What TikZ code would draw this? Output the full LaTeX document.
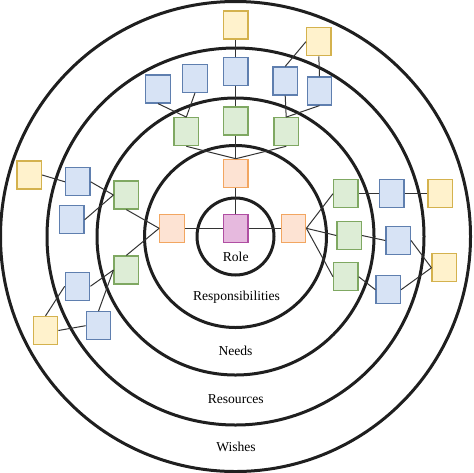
\documentclass[tikz,border=0pt]{standalone}
\usepackage{fontspec}
\setmainfont{Liberation Serif}
\definecolor{rolefill}{HTML}{E6B9DE}
\definecolor{roleline}{HTML}{B04FA3}
\definecolor{respfill}{HTML}{FDE3D3}
\definecolor{respline}{HTML}{F2A661}
\definecolor{needfill}{HTML}{DDEDD6}
\definecolor{needline}{HTML}{7FA862}
\definecolor{resfill}{HTML}{D7E3F5}
\definecolor{resline}{HTML}{5F7FAF}
\definecolor{wishfill}{HTML}{FFF2CC}
\definecolor{wishline}{HTML}{D4B24E}
\begin{document}
\begin{tikzpicture}[x=0.75pt, y=-0.75pt,
    box/.style={rectangle,draw,line width=0.9pt,inner sep=0,minimum width=18.4pt,minimum height=21pt},
    role_box/.style={box,fill=rolefill,draw=roleline},
    resp_box/.style={box,fill=respfill,draw=respline},
    need_box/.style={box,fill=needfill,draw=needline},
    res_box/.style={box,fill=resfill,draw=resline},
    wish_box/.style={box,fill=wishfill,draw=wishline},
    ring/.style={line width=2.25pt,draw=black!88},
    link/.style={line width=0.75pt,draw=black!80},
    label/.style={font=\fontsize{10.2}{12}\selectfont}]
    \useasboundingbox (0,0) rectangle (474,472) ;
    \coordinate (centre) at (235.5,236.5) ;
    \foreach \r in {38.5,91,138.5,188.5,235} {
        \draw[ring] (centre) circle[radius=\r] ;
    }
    \node[label] (role_text) at (235.7,256.7) {Role} ;
    \node[label] (resp_text) at (236.5,297.7) {Responsibilities} ;
    \node[label] (need_text) at (235.5,350.7) {Needs} ;
    \node[label] (res_text) at (235.7,399.3) {Resources} ;
    \node[label] (wish_text) at (236,447.3) {Wishes} ;

    \node[role_box] (role) at (235.8,228.3) {} ;

    \node[resp_box] (resp_top) at (235.8,173.3) {} ;
    \node[resp_box] (resp_left) at (172,228.3) {} ;
    \node[resp_box] (resp_right) at (293.5,228.3) {} ;

    \node[need_box] (need_top) at (235.8,121) {} ;
    \node[need_box] (need_ul) at (186.3,131.7) {} ;
    \node[need_box] (need_ur) at (286.2,131.7) {} ;
    \node[need_box] (need_lu) at (126.3,195) {} ;
    \node[need_box] (need_ll) at (126.3,270) {} ;
    \node[need_box] (need_r1) at (345.8,193.7) {} ;
    \node[need_box] (need_r2) at (349.2,235.5) {} ;
    \node[need_box] (need_r3) at (345.8,276.7) {} ;

    \node[res_box] (res_top) at (235.8,71.7) {} ;
    \node[res_box] (res_ul1) at (158,89) {} ;
    \node[res_box] (res_ul2) at (195,78.3) {} ;
    \node[res_box] (res_ur1) at (285.2,81) {} ;
    \node[res_box] (res_ur2) at (319.5,91) {} ;
    \node[res_box] (res_l1) at (77.8,181.8) {} ;
    \node[res_box] (res_l2) at (71.8,219.7) {} ;
    \node[res_box] (res_ll1) at (77.5,286.3) {} ;
    \node[res_box] (res_ll2) at (98.5,325.7) {} ;
    \node[res_box] (res_r1) at (391.8,193.7) {} ;
    \node[res_box] (res_r2) at (398.2,240.5) {} ;
    \node[res_box] (res_r3) at (388.2,289.7) {} ;

    \node[wish_box] (wish_top) at (235.8,25) {} ;
    \node[wish_box] (wish_ur) at (318.8,41.7) {} ;
    \node[wish_box] (wish_l) at (29.3,175) {} ;
    \node[wish_box] (wish_ll) at (45.5,330.5) {} ;
    \node[wish_box] (wish_r1) at (440.2,193.7) {} ;
    \node[wish_box] (wish_r2) at (444.3,267.8) {} ;

    % centre
    \draw[link] (role.north) -- (resp_top.south) ;
    \draw[link] (role.west) -- (resp_left.east) ;
    \draw[link] (role.east) -- (resp_right.west) ;

    % top
    \draw[link] (resp_top.north) -- (need_top.south) ;
    \draw[link] (need_ul.south) -- (resp_top.north) ;
    \draw[link] (need_ur.south) -- (resp_top.north) ;
    \draw[link] (need_top.north) -- (res_top.south) ;
    \draw[link] (res_top.north) -- (wish_top.south) ;
    \draw[link] (res_ul1.south) -- (need_ul.north) ;
    \draw[link] (res_ul2.south) -- (need_ul.north) ;
    \draw[link] (res_ur1.south) -- (need_ur.north) ;
    \draw[link] (res_ur2.south) -- (need_ur.north) ;
    \draw[link] (wish_ur.west) -- (res_ur1.north) ;
    \draw[link] (wish_ur.south) -- (res_ur2.north) ;

    % left
    \draw[link] (need_lu.south) -- (resp_left.west) ;
    \draw[link] (need_ll.north) -- (resp_left.west) ;
    \draw[link] (res_l1.east) -- (need_lu.west) ;
    \draw[link] (res_l2.east) -- (need_lu.west) ;
    \draw[link] (wish_l.east) -- (res_l1.west) ;
    \draw[link] (res_ll1.east) -- (need_ll.west) ;
    \draw[link] (res_ll2.north) -- (need_ll.west) ;
    \draw[link] (wish_ll.north) -- (res_ll1.west) ;
    \draw[link] (wish_ll.east) -- (res_ll2.west) ;

    % right
    \draw[link] (resp_right.east) -- (need_r1.west) ;
    \draw[link] (resp_right.east) -- (need_r2.west) ;
    \draw[link] (resp_right.east) -- (need_r3.west) ;
    \draw[link] (need_r1.east) -- (res_r1.west) ;
    \draw[link] (res_r1.east) -- (wish_r1.west) ;
    \draw[link] (need_r2.east) -- (res_r2.west) ;
    \draw[link] (need_r3.east) -- (res_r3.west) ;
    \draw[link] (res_r2.east) -- (wish_r2.west) ;
    \draw[link] (res_r3.east) -- (wish_r2.west) ;
\end{tikzpicture}
\end{document}
